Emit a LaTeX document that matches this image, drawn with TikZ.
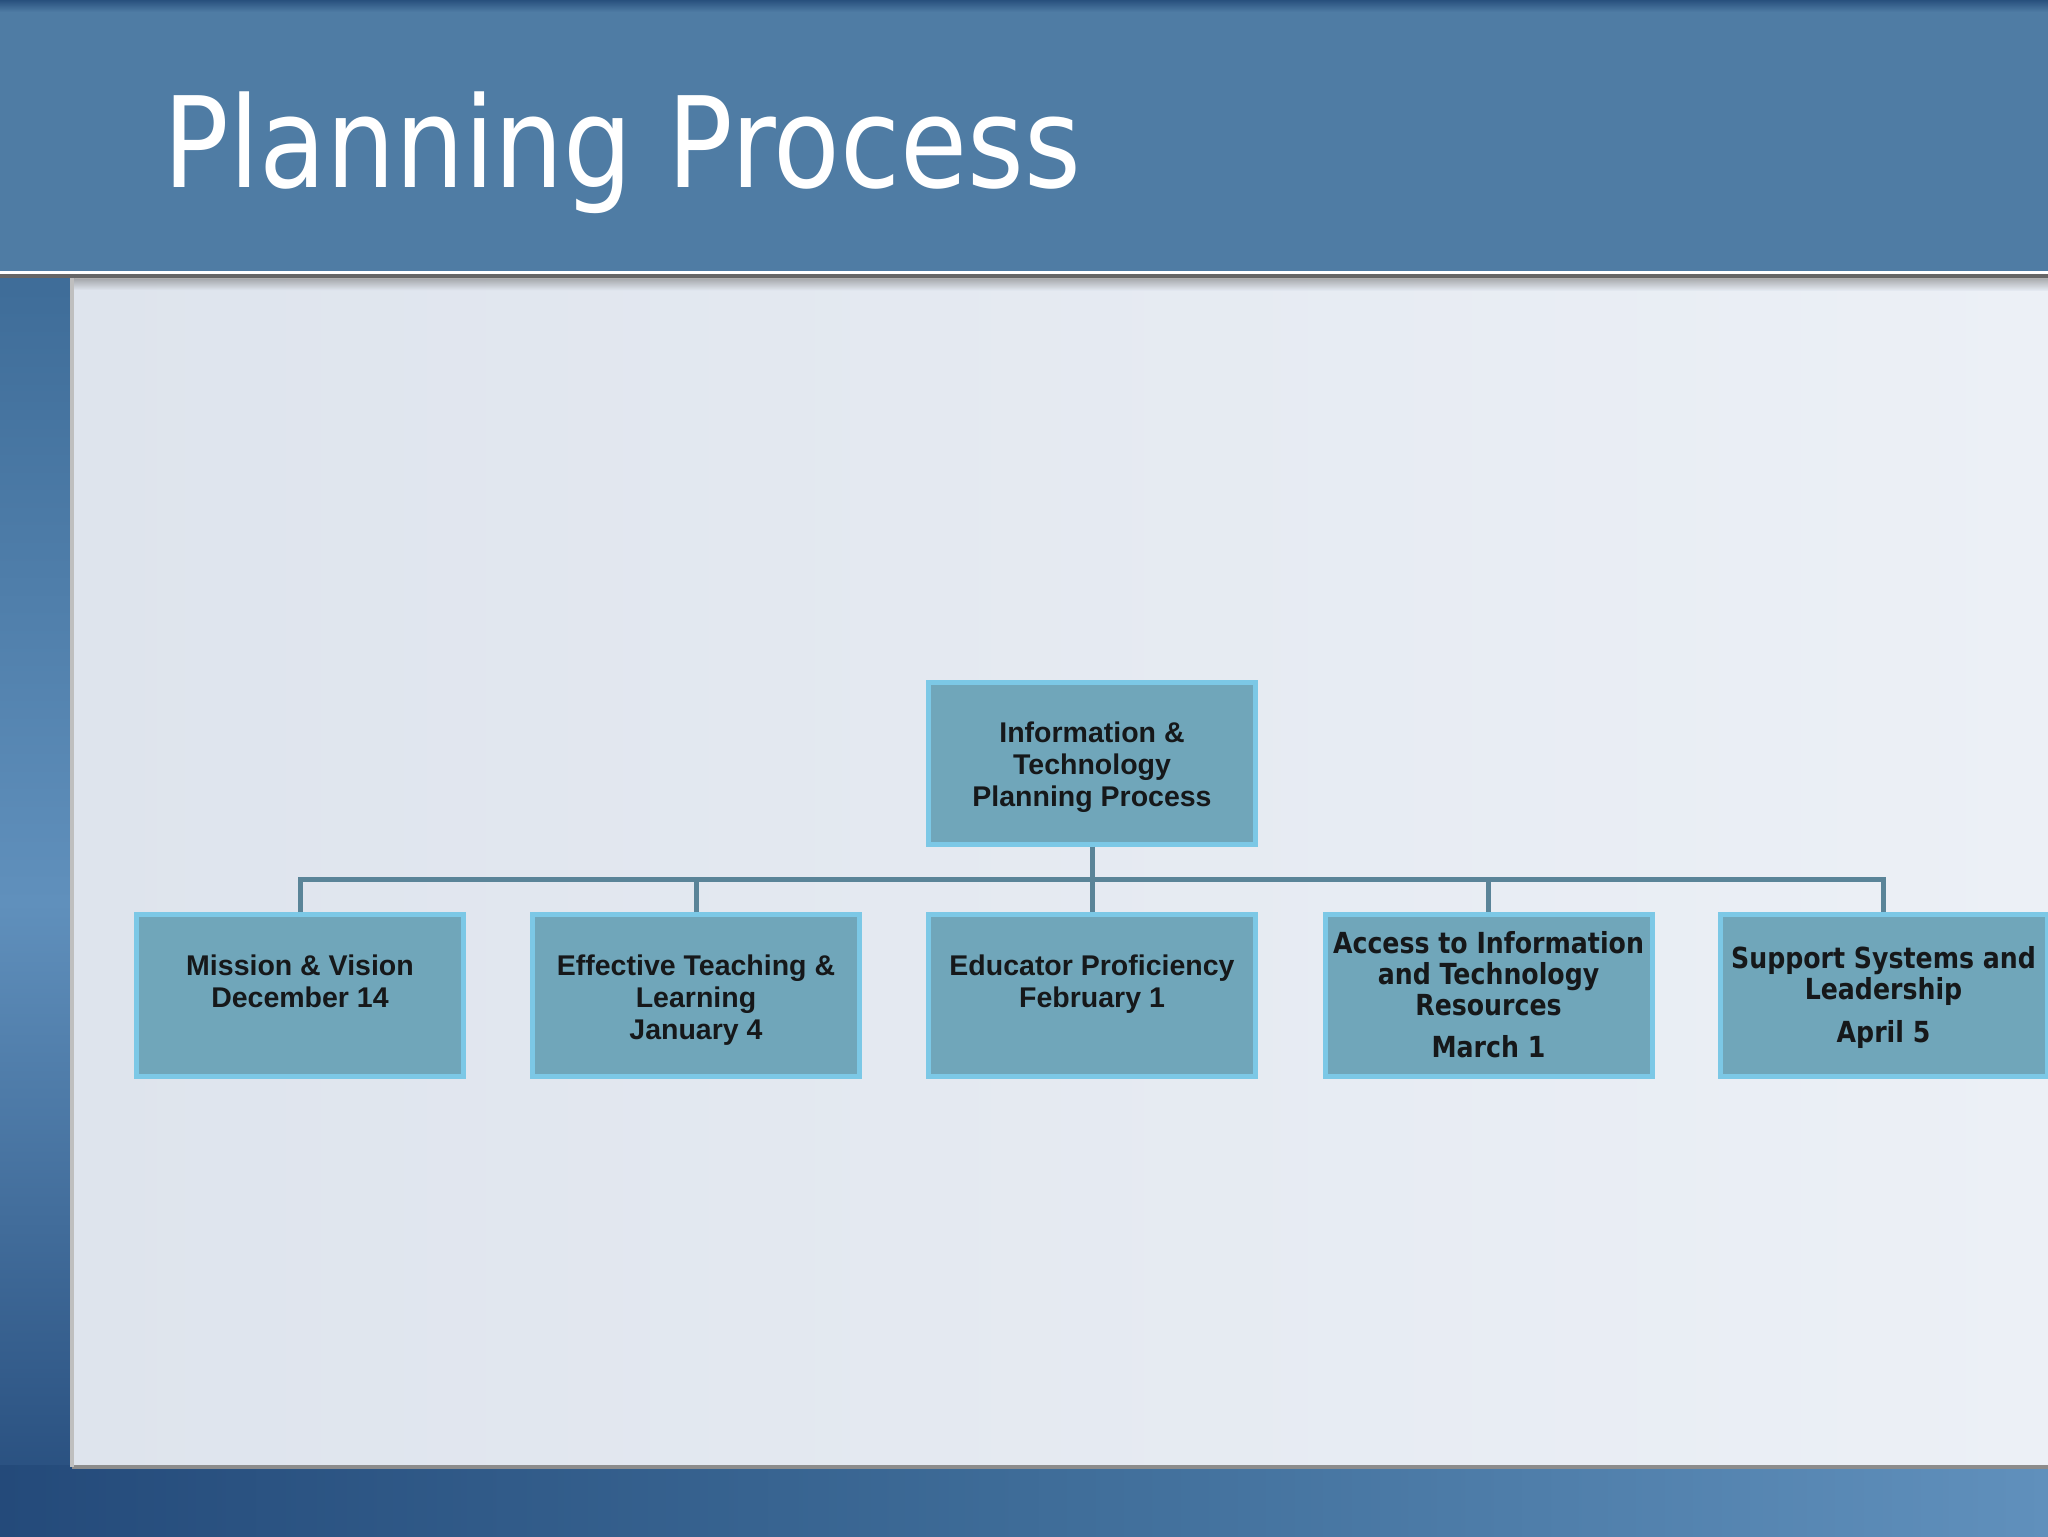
\documentclass[tikz,border=0pt]{standalone}
\usepackage{fontspec}
\setmainfont{Liberation Sans}
\newfontfamily\titlefont[FakeStretch=0.865]{DejaVu Sans}
\newfontfamily\tahb[FakeStretch=0.87]{DejaVu Sans}
\definecolor{barblue}{RGB}{79,124,164}
\definecolor{bardark}{RGB}{40,80,125}
\definecolor{boxfill}{RGB}{112,166,186}
\definecolor{boxedge}{RGB}{124,200,230}
\definecolor{connc}{RGB}{90,132,152}
\definecolor{txt}{RGB}{22,24,26}
\definecolor{panelA}{RGB}{222,228,237}
\definecolor{panelB}{RGB}{236,240,246}
\definecolor{stripA}{RGB}{62,108,152}
\definecolor{stripB}{RGB}{96,144,188}
\definecolor{stripC}{RGB}{36,74,122}
\tikzset{
  orgbox/.style={draw=boxedge, fill=boxfill, line width=2.5pt, inner sep=0pt,
    minimum width=163.5pt, minimum height=81pt},
  conn/.style={draw=connc, line width=2.5pt},
  boxtext/.style={anchor=north, inner sep=0pt, align=center, text=txt,
    font=\fontsize{14.25pt}{16pt}\selectfont\bfseries},
  tahtext/.style={anchor=north, inner sep=0pt, align=center, text=txt,
    font=\tahb\fontsize{14.5pt}{15.5pt}\selectfont\bfseries}
}
\begin{document}
\begin{tikzpicture}[x=0.5pt,y=-0.5pt]
\clip (0,0) rectangle (2048,1536);
% background
\fill[bottom color=stripC, top color=stripA, middle color=stripB] (0,270) rectangle (74,1536);
\shade[left color=stripC, right color=stripB, middle color=stripA] (0,1465) rectangle (2048,1536);
\shade[left color=panelA, right color=panelB] (74,279) rectangle (2048,1465);
\shade[top color=black!55, bottom color=panelA, opacity=0.6] (74,277) rectangle (2048,290);
\fill[black!45] (72,1465) rectangle (2048,1469);
\fill[black!25] (70,277) rectangle (74,1467);
% title bar
\fill[barblue] (0,0) rectangle (2048,273);
\shade[top color=bardark, bottom color=barblue] (0,0) rectangle (2048,12);
\fill[white] (0,271) rectangle (2048,274);
\fill[black!60] (0,274) rectangle (2048,278);
\node[anchor=base west, inner sep=0pt, text=white, font=\titlefont\fontsize{63pt}{70pt}\selectfont] (title) at (163,187) {Planning Process};
% boxes
\node[orgbox] (top) at (1092,763) {};
\node[orgbox] (b1) at (300,995.5) {};
\node[orgbox] (b2) at (696,995.5) {};
\node[orgbox] (b3) at (1092,995.5) {};
\node[orgbox] (b4) at (1488.5,995.5) {};
\node[orgbox] (b5) at (1883.5,995.5) {};
% connectors
\coordinate (bus) at (1092,879);
\draw[conn] (top.south) -- (top.south |- bus);
\draw[conn] (b1.north) -- (b1.north |- bus) -- (b5.north |- bus) -- (b5.north);
\draw[conn] (b2.north) -- (b2.north |- bus);
\draw[conn] (b3.north) -- (b3.north |- bus);
\draw[conn] (b4.north) -- (b4.north |- bus);
% texts
\node[boxtext] (ttop) at ([yshift=-21pt]top.north) {Information \&\\Technology\\Planning Process};
\node[boxtext] (t1) at ([yshift=-21pt]b1.north) {Mission \& Vision\\December 14};
\node[boxtext] (t2) at ([yshift=-21pt]b2.north) {Effective Teaching \&\\Learning\\January 4};
\node[boxtext] (t3) at ([yshift=-21pt]b3.north) {Educator Proficiency\\February 1};
\node[tahtext] (t4) at ([yshift=-9.5pt]b4.north) {Access to Information\\and Technology\\Resources\\[5.5pt]March 1};
\node[tahtext] (t5) at ([yshift=-17pt]b5.north) {Support Systems and\\Leadership\\[6pt]April 5};
\end{tikzpicture}
\end{document}
